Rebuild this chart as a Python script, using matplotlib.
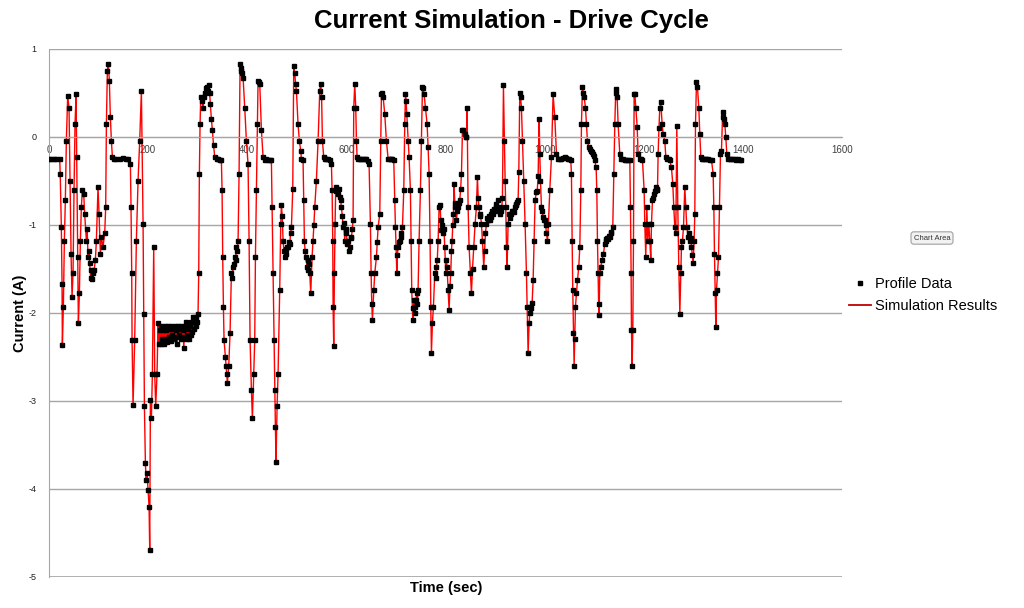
import matplotlib
matplotlib.use("Agg")
import matplotlib.pyplot as plt
from matplotlib.lines import Line2D

plt.rcParams['font.family'] = ['Liberation Sans', 'DejaVu Sans']
plt.rcParams['axes.unicode_minus'] = False

time_s = [
    0.0, 5, 10, 15, 21.6, 22.6, 24.9, 26.3, 27.0, 29.0, 31.0, 33.0, 35.0, 37.7, 40.4, 42.4, 44.5, 46.5,
    48.5, 50.5, 52.5, 54.6, 55.9, 57.9, 59.3, 61.3, 63.3, 65.3, 67.3, 70.0, 72.0, 75.4, 77.0, 78.8, 80.5,
    82.1, 84.0, 85.5, 87.0, 88.9, 90.9, 93.6, 95.6, 98.9, 101.0, 103.7, 105.7, 109.0, 112.4, 114.4, 115.8,
    117.8, 119.8, 121.8, 123.8, 125.9, 127.9, 130.6, 136.0, 142.7, 149.4, 155.0, 159.5, 164.2, 165.5, 166.9,
    167.6, 169.6,
    172.9, 176.3, 179.7, 183.0, 186.4, 189.8, 191.1, 192.5, 194.5, 196.0, 197.8, 199.8, 201.9, 203.2, 204.6,
    206.6, 208.6, 211.3, 213.3, 215.3, 218.0, 220.0, 221.7, 223.4, 225.0, 226.8, 228.5, 230.1, 232.0, 233.5,
    235.0, 236.9, 238.5, 240.0, 242.0, 243.6, 245.5, 247.0, 248.8, 250.3, 252.0, 253.6, 255.3, 257.0, 258.7,
    260.4, 262.0, 263.8, 265.5, 267.0, 268.8, 270.5, 272.0, 273.8, 275.5, 277.2, 279.0, 280.5, 282.2, 283.9,
    285.6, 287.3, 289.0, 290.7, 292.4, 294.0, 295.7, 297.4, 299.0, 300.7, 302.1, 303.4, 304.8, 306.1, 308.5,
    310.8, 312.8, 314.9, 316.9, 318.9, 320.6, 322.3, 324.0, 325.6, 327.6, 329.7, 332.0, 334.4,
    338.0, 341.1, 344.5, 347.8, 349.2, 350.5, 351.9, 353.2, 355.9, 357.3, 358.6, 359.9, 362.6, 365.3, 368.0,
    369.7, 371.4, 373.0, 374.7, 376.4, 378.1, 379.8, 381.5, 383.5, 385.5, 387.0, 388.2, 390.0, 391.6, 394.9,
    398.3, 401.6, 403.7, 405.7, 408.4, 410.4, 413.1, 415.1, 416.5, 418.5, 420.5, 421.8, 423.5, 425.2, 428.6,
    431.9, 435.3, 438.7, 442.0, 445.4, 448.7, 450.1, 452.1, 454.1, 455.5, 456.8, 458.1, 460.2, 462.2, 465.5,
    467.6, 468.9, 470.6, 472.3, 474.0, 475.6, 477.3, 479.0, 480.7, 482.4, 484.0, 485.7, 487.4, 489.1, 491.8,
    493.8, 495.8, 497.5, 499.2, 502.5, 505.2, 507.9,
    509.3, 512.6, 514.0, 515.3, 516.7, 518.0, 520.7, 522.0, 523.4, 524.7, 526.1, 528.1, 530.8, 532.8, 534.5,
    536.2, 539.5, 542.9, 546.3, 548.3, 550.0, 551.7, 554.3, 557.0, 559.7, 563.0, 566.5, 569.8, 571.2, 572.5,
    573.2, 574.5, 575.9, 577.2, 578.6, 580.0, 581.2, 583.3, 585.0, 586.6, 588.3, 590.0, 591.7, 593.4, 595.0,
    596.7, 598.4, 600.1, 601.8, 603.4, 605.1, 606.8, 608.5, 610.2, 612.0, 613.5, 614.9, 616.9, 618.9, 620.3,
    621.6, 624.0, 627.0, 630.4, 633.8, 637.2, 640.5, 643.2, 645.8, 648.5, 649.9, 651.2, 652.6, 655.3, 657.3,
    660.6, 662.3, 664.0, 667.4, 669.4, 670.7, 672.4, 674.1, 677.4, 680.8,
    684.2, 687.5, 691.0, 693.0, 695.6, 697.6, 699.0, 700.3, 701.7, 703.0, 704.3, 706.0, 707.7, 709.4, 711.1,
    713.1, 715.8, 717.8, 719.2, 720.5, 721.8, 724.5, 726.5, 729.2, 730.6, 731.9, 733.9, 735.3, 736.6, 738.0,
    739.3, 740.6, 742.0, 743.4, 744.7, 746.7, 749.4, 751.4, 753.5, 755.0, 756.8, 759.5, 762.9, 764.9, 766.9,
    768.9, 770.3, 771.6, 773.6, 775.7, 778.3, 780.0, 781.7, 783.4, 785.1, 787.1, 789.1, 790.5, 791.8, 793.5,
    795.2, 796.9, 798.5, 800.5, 801.9, 803.2, 805.2, 807.3, 809.0, 810.6, 812.0, 813.3, 814.7, 816.0, 817.3,
    818.7, 820.1, 822.1, 823.8, 825.4, 827.1, 828.8, 830.5, 832.2, 834.2, 836.2, 838.9, 840.6, 842.2, 843.6,
    845.6, 847.6, 850.3, 852.3,
    854.5, 857.0, 859.7, 862.4, 864.4, 866.0, 867.8, 869.0, 870.5, 872.5, 874.5, 877.2, 878.9, 880.6, 882.6,
    884.3, 886.0, 887.6, 889.3, 891.0, 892.7, 894.4, 896.1, 897.7, 899.4, 901.1, 902.8, 904.5, 906.1, 907.8,
    909.5, 911.2, 912.9, 914.9, 916.9, 918.9, 920.3, 921.6, 923.0, 924.3, 926.3, 928.3, 930.5, 933.1, 934.8,
    936.4, 938.1, 939.8, 941.5, 943.2, 944.9, 946.5, 947.9, 949.9, 951.5, 953.2, 955.3, 957.9, 960.6, 963.3,
    964.7, 966.7, 968.7, 970.0, 971.4, 973.0, 974.8, 976.8, 978.8, 980.8, 983.5, 985.0, 986.9, 988.9, 990.3,
    991.6, 993.6, 995.3, 996.9, 998.6, 1000.3, 1002.0, 1003.7, 1005.7, 1007.7, 1010.4, 1013.8, 1017.1, 1020.5,
    1023.9, 1027.2, 1031.0, 1034.0, 1037.4, 1040.7, 1044.0, 1047.4, 1050.0, 1052.8, 1054.1, 1055.5, 1056.8,
    1058.2, 1059.5, 1060.8, 1062.2, 1064.2, 1066.3, 1068.9, 1071.0, 1073.0, 1074.3, 1076.3, 1078.0, 1079.7,
    1082.4, 1084.4, 1086.4, 1089.1, 1091.0, 1093.2, 1095.5, 1097.8, 1099.5, 1101.2, 1103.9, 1105.3, 1106.6,
    1107.9, 1109.3, 1110.3, 1111.3, 1113.3, 1116.0, 1118.7, 1121.4, 1123.0, 1124.8, 1126.5, 1128.1, 1129.8,
    1131.5, 1133.2, 1134.9, 1137.5, 1139.6, 1141.6, 1143.6, 1145.0, 1146.3, 1148.3, 1151.7, 1155.0, 1158.4,
    1161.8, 1165.0, 1168.5, 1171.9, 1173.2, 1174.5, 1175.2, 1176.6, 1177.9, 1179.3, 1180.6, 1182.0, 1184.0,
    1186.7, 1188.7, 1192.0, 1195.0, 1197.4,
    1200.8, 1202.1, 1204.1, 1206.2, 1208.2, 1210.2, 1212.2, 1214.2, 1215.6, 1217.6, 1219.3, 1221.0, 1222.7,
    1224.3, 1226.0, 1227.7, 1229.0, 1230.7, 1232.4, 1234.4, 1237.1, 1239.1, 1242.5, 1244.5, 1247.9, 1250.0,
    1252.6, 1255.9, 1258.6, 1260.6, 1262.7, 1264.7, 1266.7, 1268.7, 1270.7, 1272.8, 1274.8, 1276.1, 1278.1,
    1280.2, 1282.8, 1284.9, 1286.9, 1289.6, 1291.3, 1292.9, 1294.6, 1296.3, 1298.0, 1299.6, 1301.7, 1303.0,
    1304.4, 1306.4, 1308.4, 1311.1, 1313.1, 1315.1, 1317.5, 1319.8, 1323.0, 1326.5, 1329.9, 1333.3, 1336.7,
    1340.0, 1341.4, 1342.7, 1344.1, 1345.4, 1346.8, 1348.8, 1350.8, 1352.8, 1354.8, 1356.8, 1358.9, 1360.9,
    1362.3, 1363.6, 1365.6, 1367.6, 1370.0, 1373.5, 1377.0, 1380.4, 1383.7, 1387.1, 1390.5, 1393.8, 1397.2,
]

current_a = [
    -0.25, -0.25, -0.25, -0.26, -0.26, -0.42, -1.03, -1.67, -2.37, -1.93, -1.18, -0.72, -0.05, 0.46, 0.33, -0.50, -1.33, -1.82,
    -1.55, -0.61, 0.14, 0.48, -0.23, -1.37, -2.12, -1.78, -1.18, -0.80, -0.61, -0.65, -0.88, -1.18, -1.05, -1.37, -1.30,
    -1.44, -1.60, -1.52, -1.62, -1.55, -1.52, -1.40, -1.18, -0.57, -0.88, -1.33, -1.14, -1.25, -1.10, -0.80, 0.14,
    0.75, 0.82, 0.63, 0.22, -0.05, -0.23, -0.25, -0.25, -0.25, -0.24, -0.25, -0.26, -0.31, -0.80, -1.55,
    -2.31, -3.05,
    -2.31, -1.18, -0.50, -0.05, 0.52, -0.99, -2.01, -3.06, -3.71, -3.90, -3.82, -4.01, -4.20, -4.69, -2.99,
    -3.20, -2.69, -1.25, -2.69, -3.06, -2.69, -2.12, -2.35, -2.20, -2.35, -2.15, -2.30, -2.20, -2.35, -2.15,
    -2.30, -2.20, -2.33, -2.15, -2.28, -2.18, -2.32, -2.15, -2.25, -2.18, -2.30, -2.15, -2.28, -2.20, -2.35,
    -2.15, -2.25, -2.18, -2.30, -2.15, -2.28, -2.20, -2.40, -2.15, -2.30, -2.10, -2.25, -2.18, -2.30, -2.15,
    -2.25, -2.10, -2.22, -2.05, -2.18, -2.10, -2.15, -2.05, -2.10, -2.01, -1.55, -0.42, 0.14, 0.45, 0.40,
    0.33, 0.45, 0.50, 0.55, 0.56, 0.52, 0.58, 0.50, 0.37, 0.20, 0.07, -0.10, -0.23,
    -0.25, -0.25, -0.27, -0.27, -0.61, -1.37, -1.93, -2.31, -2.50, -2.60, -2.69, -2.80, -2.61, -2.23, -1.55,
    -1.60, -1.48, -1.45, -1.37, -1.40, -1.25, -1.30, -1.18, -0.42, 0.82, 0.78, 0.75, 0.72, 0.67, 0.33,
    -0.05, -0.31, -1.18, -2.31, -2.88, -3.20, -2.69, -2.31, -1.37, -0.61, 0.14, 0.63, 0.62, 0.60, 0.07,
    -0.23, -0.27, -0.26, -0.27, -0.27, -0.27, -0.80, -1.55, -2.31, -2.88, -3.30, -3.69, -3.06, -2.69, -1.74,
    -0.99, -0.78, -0.90, -1.18, -1.30, -1.37, -1.28, -1.33, -1.25, -1.25, -1.20, -1.22, -1.10, -1.03, -0.60,
    0.80, 0.72, 0.60, 0.52, 0.14, -0.05, -0.16,
    -0.25, -0.27, -0.72, -1.18, -1.30, -1.37, -1.48, -1.40, -1.52, -1.45, -1.55, -1.78, -1.37, -1.18, -1.00,
    -0.80, -0.50, -0.05, 0.52, 0.60, 0.45, -0.05, -0.23, -0.25, -0.25, -0.26, -0.27, -0.31, -0.61, -1.18,
    -1.93, -2.38, -1.55, -0.99, -0.57, -0.62, -0.61, -0.65, -0.60, -0.69, -0.72, -0.80, -0.90, -1.03, -0.98,
    -1.18, -1.05, -1.10, -1.22, -1.18, -1.30, -1.25, -1.15, -1.14, -1.05, -0.95, 0.33, 0.60, 0.33, -0.05,
    -0.23, -0.25, -0.25, -0.26, -0.25, -0.25, -0.25, -0.28, -0.31, -0.99, -1.55, -1.90, -2.08, -1.74, -1.55,
    -1.37, -1.20, -1.03, -0.88, -0.05, 0.48, 0.50, 0.45, 0.26, -0.05,
    -0.25, -0.25, -0.26, -0.25, -0.27, -0.72, -1.03, -1.25, -1.55, -1.35, -1.25, -1.20, -1.18, -1.10, -1.14,
    -1.03, -0.61, 0.14, 0.48, 0.40, 0.26, -0.05, -0.23, -0.61, -1.18, -1.74, -2.08, -1.95, -1.86, -2.00,
    -1.93, -1.85, -1.78, -1.90, -1.74, -1.18, -0.61, -0.05, 0.56, 0.55, 0.48, 0.33, 0.14, -0.12, -0.42,
    -1.18, -1.93, -2.46, -2.12, -1.93, -1.55, -1.60, -1.48, -1.40, -1.18, -0.80, -0.78, -0.95, -1.06, -1.00,
    -1.10, -1.05, -1.25, -1.55, -1.40, -1.48, -1.74, -1.97, -1.70, -1.55, -1.30, -1.18, -1.00, -0.88, -0.54,
    -0.75, -0.80, -0.95, -0.85, -0.80, -0.75, -0.72, -0.60, -0.42, 0.07, 0.07, 0.03, 0.00, -0.01, 0.33,
    -0.80, -1.25, -1.55, -1.78,
    -1.50, -1.25, -0.99, -0.80, -0.46, -0.70, -0.80, -0.90, -0.88, -0.99, -1.18, -1.48, -1.30, -1.10, -0.99,
    -0.92, -0.95, -0.90, -0.95, -0.88, -0.91, -0.85, -0.88, -0.82, -0.84, -0.80, -0.76, -0.82, -0.72, -0.85,
    -0.88, -0.80, -0.84, -0.70, 0.58, -0.05, -0.50, -0.80, -1.25, -1.48, -0.99, -0.88, -0.92, -0.88, -0.85,
    -0.84, -0.86, -0.80, -0.78, -0.76, -0.74, -0.72, -0.40, 0.50, 0.45, 0.33, -0.05, -0.50, -0.99, -1.55,
    -1.93, -2.46, -2.12, -2.00, -1.93, -1.95, -1.89, -1.63, -1.18, -0.72, -0.63, -0.62, -0.45, 0.20, -0.20,
    -0.50, -0.80, -0.85, -0.91, -0.95, -0.95, -1.00, -1.10, -1.18, -0.99, -0.61, -0.23, 0.48, 0.22,
    -0.20, -0.25, -0.25, -0.25, -0.24, -0.23, -0.24, -0.25, -0.25, -0.27, -0.42, -1.18, -1.74,
    -2.23, -2.61, -2.30, -1.93, -1.78, -1.63, -1.48, -1.25, -0.61, 0.14, 0.56, 0.50, 0.45,
    0.33, 0.14, -0.05, -0.12, -0.14, -0.16, -0.18, -0.20, -0.22, -0.27, -0.35, -0.61, -1.18,
    -1.55, -2.03, -1.90, -1.55, -1.48, -1.40, -1.33, -1.22, -1.18, -1.16, -1.15, -1.16, -1.13,
    -1.14, -1.10, -1.08, -1.03, -0.42, 0.14, 0.54, 0.50, 0.45, 0.14, -0.20, -0.25, -0.26,
    -0.27, -0.27, -0.27, -0.27, -0.80, -1.55, -2.20, -2.61, -2.20, -1.18, 0.48, 0.48, 0.33,
    0.11, -0.20, -0.25, -0.26, -0.27,
    -0.61, -0.99, -1.37, -0.80, -1.18, -0.99, -1.18, -1.40, -0.99, -0.72, -0.70, -0.65, -0.62,
    -0.57, -0.60, -0.61, -0.20, 0.10, 0.33, 0.39, 0.14, 0.03, -0.05, -0.23, -0.25, -0.26,
    -0.27, -0.35, -0.54, -0.80, -1.03, -1.10, 0.12, -0.80, -1.48, -2.01, -1.55, -1.25, -1.18,
    -1.03, -0.57, -0.80, -1.03, -1.14, -1.10, -1.18, -1.15, -1.25, -1.35, -1.44, -1.18, -0.88,
    0.14, 0.62, 0.56, 0.33, 0.03, -0.23, -0.25, -0.25, -0.26, -0.26, -0.26, -0.27, -0.27,
    -0.42, -0.80, -1.33, -1.78, -2.16, -1.74, -1.55, -1.37, -0.80, -0.20, -0.16, 0.22, 0.28,
    0.20, 0.14, -0.01, -0.20, -0.25, -0.25, -0.25, -0.26, -0.26, -0.27, -0.26, -0.27, -0.27,
]

x_ticks = [0, 200, 400, 600, 800, 1000, 1200, 1400, 1600]
y_ticks = [1, 0, -1, -2, -3, -4, -5]

fig = plt.figure(figsize=(10.24, 6.08), dpi=100)
ax = fig.add_axes([49 / 1024, 1 - 577 / 608, (842 - 49) / 1024, (577 - 48.5) / 608])

grid_c = '#a6a6a6'
ax.plot(time_s, current_a, color='#ff0000', lw=1.0, zorder=2)
ax.plot(time_s, current_a, linestyle='none', marker='s', ms=2.2, color='black', zorder=3)

ax.set_xlim(0, 1600)
ax.set_ylim(-5, 1)
ax.set_xticks(x_ticks)
ax.set_yticks(y_ticks)
ax.grid(axis='y', color=grid_c, lw=1.0, zorder=0)
ax.set_axisbelow(True)

for s in ['top', 'right']:
    ax.spines[s].set_visible(False)
ax.spines['left'].set_color(grid_c)
ax.spines['bottom'].set_position(('data', 0))
ax.spines['bottom'].set_color(grid_c)
ax.axhline(-5, color=grid_c, lw=1.2, zorder=0)

ax.tick_params(axis='x', length=0, pad=6, labelsize=7, labelcolor='#404040')
ax.tick_params(axis='y', length=0, pad=9, labelsize=6.5, labelcolor='#202020')

fig.text(511 / 1024, 1 - 21 / 608, 'Current Simulation - Drive Cycle', ha='center', va='center',
         fontsize=18.5, fontweight='bold', family=['Liberation Sans Narrow', 'Liberation Sans'])
fig.text(20 / 1024, 1 - 313 / 608, 'Current (A)', rotation=90, ha='center', va='center',
         fontsize=10.5, fontweight='bold', family=['Liberation Sans Narrow', 'Liberation Sans'])
fig.text(446 / 1024, 1 - 588 / 608, 'Time (sec)', ha='center', va='center',
         fontsize=10.5, fontweight='bold', family=['Liberation Sans Narrow', 'Liberation Sans'])

handles = [Line2D([], [], linestyle='none', marker='s', ms=2.4, color='black'),
           Line2D([], [], color='#c00000', lw=1.3)]
fig.legend(handles, ['Profile Data', 'Simulation Results'], loc='upper left',
           bbox_to_anchor=(843 / 1024, 1 - 271 / 608), frameon=False, fontsize=10.5,
           handlelength=1.5, handletextpad=0.3, labelspacing=0.55, borderaxespad=0)

fig.text(932 / 1024, 1 - 238 / 608, 'Chart Area', ha='center', va='center', fontsize=5.5,
         color='#333333', bbox=dict(boxstyle='round,pad=0.35', fc='#f2f2f2', ec='#a0a0a0', lw=0.8))

fig.savefig('out.png', dpi=100)
